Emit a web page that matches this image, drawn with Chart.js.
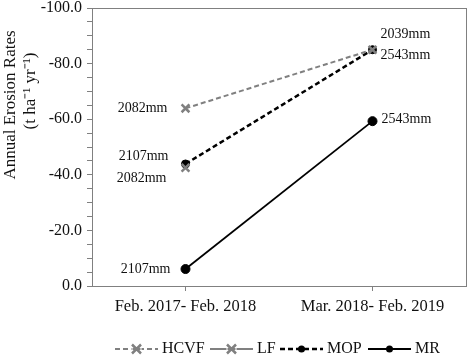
<!DOCTYPE html>
<html><head><meta charset="utf-8">
<script src="https://cdn.jsdelivr.net/npm/chart.js@4/dist/chart.umd.min.js"></script>
<style>html,body{margin:0;padding:0;background:#fff}#wrap{width:474px;height:357px}</style>
</head><body><div id="wrap"><canvas id="c" width="474" height="357"></canvas></div>
<script>
const categories = ['Feb. 2017- Feb. 2018', 'Mar. 2018- Feb. 2019'];
const seriesNames = ['HCVF', 'LF', 'MOP', 'MR'];
const hcvf = [-63.9, -85.0];
const lf = [-42.5, null];
const mop = [-43.9, -85.0];
const mr = [-6.1, -59.3];
const hcvfLabels = ['2082mm', '2039mm'];
const lfLabels = ['2082mm', null];
const mopLabels = ['2107mm', '2543mm'];
const mrLabels = ['2107mm', '2543mm'];
const yMin = -100, yMax = 0, yMajor = 20, yMinor = 5;
const yTitle = ['Annual Erosion Rates', '(t ha\u207B\u00B9 yr\u207B\u00B9)'];

const FONT = "'Liberation Serif', 'Times New Roman', serif";
const GRAY = '#808080';

const allLabels = [hcvfLabels, lfLabels, mopLabels, mrLabels];
const labelOffsets = [
  [{dx: -18, dy: 0, a: 'right'}, {dx: 8, dy: -15, a: 'left'}],
  [{dx: -19, dy: 10, a: 'right'}, null],
  [{dx: -17, dy: -8, a: 'right'}, {dx: 8, dy: 6, a: 'left'}],
  [{dx: -15, dy: 0, a: 'right'}, {dx: 9, dy: -2, a: 'left'}]
];

const dataLabelPlugin = {
  id: 'dataLabels',
  afterDatasetsDraw(chart) {
    const ctx = chart.ctx;
    ctx.save();
    ctx.font = '14px ' + FONT;
    ctx.fillStyle = '#111';
    ctx.textBaseline = 'middle';
    chart.data.datasets.forEach((ds, i) => {
      const meta = chart.getDatasetMeta(i);
      meta.data.forEach((pt, j) => {
        const t = allLabels[i][j];
        const o = labelOffsets[i][j];
        if (!t || !o || ds.data[j] == null) return;
        ctx.textAlign = o.a;
        ctx.fillText(t, pt.x + o.dx, pt.y + o.dy);
      });
    });
    ctx.restore();
  }
};

const framePlugin = {
  id: 'frame',
  beforeDatasetsDraw(chart) {
    const a = chart.chartArea, ctx = chart.ctx;
    ctx.save();
    ctx.strokeStyle = GRAY; ctx.lineWidth = 1;
    ctx.strokeRect(Math.round(a.left) + 0.5, Math.round(a.top) + 0.5, Math.round(a.right - a.left), Math.round(a.bottom - a.top));
    ctx.restore();
  }
};

const titlePlugin = {
  id: 'yTitle',
  afterDraw(chart) {
    const ctx = chart.ctx;
    [[11, 105, yTitle[0]], [31, 91, yTitle[1]]].forEach(([x, y, t]) => {
      ctx.save();
      ctx.fillStyle = '#111';
      ctx.font = '17px ' + FONT;
      ctx.textAlign = 'center';
      ctx.textBaseline = 'middle';
      ctx.translate(x, y); ctx.rotate(-Math.PI / 2);
      ctx.fillText(t, 0, 0);
      ctx.restore();
    });
  }
};

// legend drawn from the datasets' own styles
const legendPlugin = {
  id: 'customLegend',
  afterDraw(chart) {
    const ctx = chart.ctx;
    const xs = [115, 210, 280, 368];
    const y = 349, w = 43;
    chart.data.datasets.forEach((ds, i) => {
      const x0 = xs[i];
      ctx.save();
      ctx.strokeStyle = ds.borderColor;
      ctx.lineWidth = ds.borderWidth;
      ctx.setLineDash(ds.borderDash || []);
      ctx.beginPath(); ctx.moveTo(x0, y); ctx.lineTo(x0 + w, y); ctx.stroke();
      ctx.setLineDash([]);
      const cx = x0 + w / 2;
      if (ds.pointStyle === 'crossRot') {
        ctx.fillStyle = '#fff';
        ctx.fillRect(cx - 5, y - 5, 10, 10);
        ctx.beginPath(); ctx.moveTo(cx - 4, y); ctx.lineTo(cx + 4, y);
        ctx.strokeStyle = ds.borderColor; ctx.lineWidth = ds.borderWidth; ctx.stroke();
        ctx.lineWidth = 2.5;
        ctx.beginPath();
        ctx.moveTo(cx - 4.5, y - 4.5); ctx.lineTo(cx + 4.5, y + 4.5);
        ctx.moveTo(cx + 4.5, y - 4.5); ctx.lineTo(cx - 4.5, y + 4.5);
        ctx.stroke();
      } else {
        ctx.fillStyle = ds.backgroundColor;
        ctx.beginPath(); ctx.arc(cx, y, 3.5, 0, Math.PI * 2); ctx.fill();
      }
      ctx.fillStyle = '#111';
      ctx.font = '16px ' + FONT;
      ctx.textAlign = 'left';
      ctx.textBaseline = 'middle';
      ctx.fillText(ds.label, x0 + w + 4, y);
      ctx.restore();
    });
  }
};

new Chart(document.getElementById('c'), {
  type: 'line',
  data: {
    labels: categories,
    datasets: [
      {label: seriesNames[0], data: hcvf, borderColor: GRAY, backgroundColor: GRAY, borderWidth: 2, borderDash: [5, 3],
       pointStyle: 'crossRot', pointRadius: 5.5, pointBorderWidth: 2.5, pointBorderColor: GRAY},
      {label: seriesNames[1], data: lf, borderColor: GRAY, backgroundColor: GRAY, borderWidth: 2, showLine: false,
       pointStyle: 'crossRot', pointRadius: 5.5, pointBorderWidth: 2.5, pointBorderColor: GRAY},
      {label: seriesNames[2], data: mop, borderColor: '#000', backgroundColor: '#000', borderWidth: 2.5, borderDash: [5, 3],
       pointStyle: 'circle', pointRadius: 4, pointBorderWidth: 1},
      {label: seriesNames[3], data: mr, borderColor: '#000', backgroundColor: '#000', borderWidth: 1.8,
       pointStyle: 'circle', pointRadius: 4.5, pointBorderWidth: 1}
    ]
  },
  options: {
    responsive: false,
    animation: false,
    spanGaps: false,
    layout: {padding: {top: 6, right: 1, left: 0, bottom: 0}},
    plugins: {
      tooltip: {enabled: false},
      legend: {display: false}
    },
    scales: {
      x: {
        type: 'category',
        offset: true,
        grid: {offset: false, drawOnChartArea: false, tickLength: 5, color: GRAY},
        border: {color: GRAY},
        ticks: {color: '#111', font: {family: FONT, size: 16.5}, padding: 6, maxRotation: 0},
        afterFit(s) { s.height = 71; s.paddingLeft = 0; s.paddingRight = 0; }
      },
      y: {
        min: yMin, max: yMax, reverse: true,
        grid: {drawOnChartArea: false, tickLength: 5, color: GRAY},
        border: {color: GRAY},
        ticks: {
          stepSize: yMinor, autoSkip: false, color: '#111', padding: 5,
          font: {family: FONT, size: 16},
          callback(v) { return (v % yMajor === 0) ? v.toFixed(1) : ''; }
        },
        afterFit(s) { s.width = 92; s.paddingTop = 0; s.paddingBottom = 0; }
      }
    }
  },
  plugins: [dataLabelPlugin, framePlugin, titlePlugin, legendPlugin]
});
</script></body></html>
